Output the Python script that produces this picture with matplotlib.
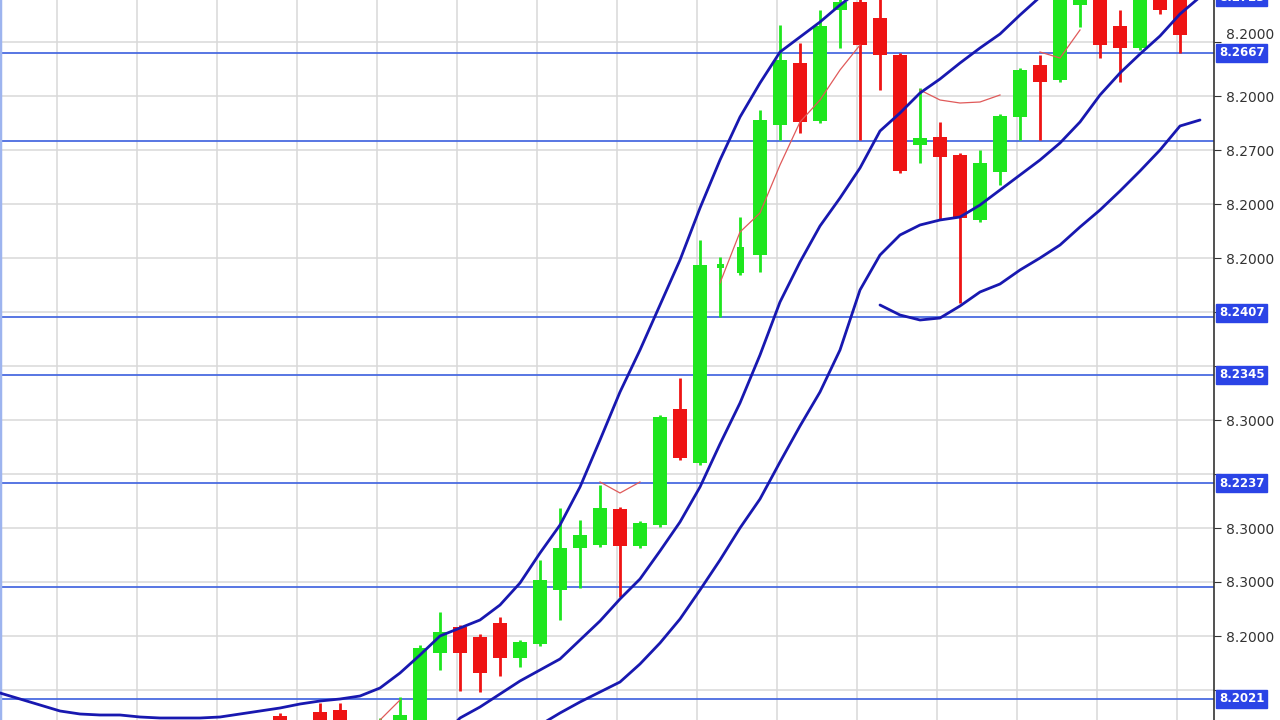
import numpy as np
import matplotlib
matplotlib.use("Agg")
import matplotlib.pyplot as plt

# candle data (index, open, high, low, close)
opens = [8.2004, 8.1960, 8.2008, 8.2010, 8.1980, 8.1985, 8.1980, 8.1985, 8.2067, 8.2093,
         8.2083, 8.2097, 8.2062, 8.2076, 8.2130, 8.2172, 8.2175, 8.2211, 8.2174, 8.2195,
         8.2311, 8.2257, 8.2452, 8.2447, 8.2465, 8.2595, 8.2657, 8.2599, 8.2710, 8.2718,
         8.2702, 8.2665, 8.2575, 8.2583, 8.2565, 8.2500, 8.2548, 8.2603, 8.2655, 8.2640,
         8.2715, 8.2725, 8.2694, 8.2672, 8.2725, 8.2725]
highs = [8.2007, 8.1982, 8.2017, 8.2017, 8.1998, 8.2002, 8.2023, 8.2075, 8.2108, 8.2095,
         8.2086, 8.2103, 8.2080, 8.2160, 8.2212, 8.2200, 8.2235, 8.2213, 8.2199, 8.2305,
         8.2342, 8.2480, 8.2463, 8.2503, 8.2610, 8.2695, 8.2677, 8.2710, 8.2725, 8.2725,
         8.2725, 8.2667, 8.2632, 8.2598, 8.2567, 8.2570, 8.2606, 8.2652, 8.2665, 8.2730,
         8.2725, 8.2730, 8.2710, 8.2730, 8.2730, 8.2730]
lows = [8.1980, 8.1955, 8.1975, 8.1975, 8.1975, 8.1980, 8.1975, 8.1980, 8.2050, 8.2029,
        8.2028, 8.2044, 8.2053, 8.2074, 8.2100, 8.2132, 8.2173, 8.2123, 8.2172, 8.2193,
        8.2260, 8.2255, 8.2403, 8.2445, 8.2448, 8.2580, 8.2587, 8.2597, 8.2672, 8.2580,
        8.2630, 8.2547, 8.2557, 8.2500, 8.2417, 8.2498, 8.2535, 8.2580, 8.2580, 8.2638,
        8.2693, 8.2662, 8.2638, 8.2670, 8.2706, 8.2667]
closes = [8.1985, 8.1978, 8.1985, 8.1990, 8.1995, 8.1998, 8.2005, 8.2072, 8.2088, 8.2067,
          8.2047, 8.2062, 8.2078, 8.2140, 8.2172, 8.2185, 8.2212, 8.2174, 8.2197, 8.2303,
          8.2262, 8.2455, 8.2456, 8.2473, 8.2600, 8.2660, 8.2598, 8.2694, 8.2718, 8.2675,
          8.2665, 8.2549, 8.2582, 8.2563, 8.2502, 8.2557, 8.2604, 8.2650, 8.2638, 8.2725,
          8.2720, 8.2675, 8.2672, 8.2725, 8.2710, 8.2685]
body_w = [0.7] * 22 + [0.35, 0.35] + [0.7] * 22

# band lines, one value per index from -14 to 46 (nan = not drawn)
band_x = np.arange(-14, 47)
nan = np.nan
upper_band = [8.2027, 8.2021, 8.2015, 8.2009, 8.2006, 8.2005, 8.2005, 8.2003, 8.2002, 8.2002,
              8.2002, 8.2003, 8.2006, 8.2009, 8.2012, 8.2016, 8.2019, 8.2021, 8.2024, 8.2032,
              8.2047, 8.2065, 8.2084, 8.2092, 8.2100, 8.2115, 8.2137, 8.2167, 8.2195, 8.2233,
              8.2280, 8.2328, 8.2370, 8.2415, 8.2460, 8.2512, 8.2560, 8.2603, 8.2637, 8.2668,
              8.2683, 8.2698, 8.2715, 8.2730, 8.2740, nan, nan, nan, nan, nan,
              nan, nan, nan, nan, nan, nan, nan, nan, nan, nan, nan]
mid_band = [nan] * 22 + [8.1980, 8.2002, 8.2013, 8.2026, 8.2039, 8.2050, 8.2061, 8.2080,
                         8.2099, 8.2121, 8.2141, 8.2169, 8.2198, 8.2233, 8.2276, 8.2317,
                         8.2365, 8.2418, 8.2458, 8.2494, 8.2522, 8.2552, 8.2589, 8.2607,
                         8.2627, 8.2641, 8.2657, 8.2672, 8.2686, 8.2705, 8.2723, 8.2740] + [nan] * 7
lower_band = [nan] * 27 + [8.1995, 8.2007, 8.2018, 8.2028, 8.2038, 8.2056, 8.2077, 8.2101,
                           8.2130, 8.2160, 8.2192, 8.2221, 8.2258, 8.2294, 8.2328, 8.2370,
                           8.2430, 8.2465, 8.2485, 8.2495, 8.2500, 8.2503, 8.2515, 8.2530,
                           8.2545, 8.2560, 8.2577, 8.2598, 8.2625, 8.2647, 8.2666, 8.2684,
                           8.2706, 8.2723]
low2_band = [nan] * 44 + [8.2415, 8.2405, 8.2400, 8.2402, 8.2414, 8.2428, 8.2436, 8.2450,
                          8.2462, 8.2475, 8.2493, 8.2510, 8.2529, 8.2549, 8.2570, 8.2594, 8.2600]

# thin moving average fragments, one value per candle
ma_line = [nan, nan, nan, nan, nan, 8.2000, 8.2020, nan, nan, nan,
           nan, nan, nan, nan, nan, nan, 8.2238, 8.2227, 8.2238, nan,
           nan, nan, 8.2437, 8.2488, 8.2507, 8.2555, 8.2598, 8.2620, 8.2650, 8.2675,
           nan, nan, 8.2630, 8.2620, 8.2617, 8.2618, 8.2625, nan, 8.2668, 8.2662,
           8.2690, nan, nan, nan, nan, nan]

# horizontal levels and price boxes
levels = [8.2667, 8.2579, 8.2403, 8.2345, 8.2237, 8.2133, 8.2021]
box_prices = [8.2723, 8.2667, 8.2407, 8.2345, 8.2237, 8.2021]
box_texts = ["8.2723", "8.2667", "8.2407", "8.2345", "8.2237", "8.2021"]

tick_vals = [8.2678, 8.2624, 8.2570, 8.2516, 8.2462, 8.2408, 8.2354,
             8.2300, 8.2246, 8.2192, 8.2138, 8.2084, 8.2030]
tick_labels = ["8.2000", "8.2000", "8.2700", "8.2000", "8.2000", "", "",
               "8.3000", "", "8.3000", "8.3000", "8.2000", ""]

GREEN = "#1ee61e"
RED = "#ee1414"
BAND = "#1818b0"
LEVEL = "#4a6be0"

fig = plt.figure(figsize=(12.8, 7.2), dpi=100)
ax = fig.add_axes([0, 0, 1214 / 1280, 1])

x = np.arange(len(opens))
o = np.array(opens)
c = np.array(closes)
up = c >= o
cols = [GREEN if u else RED for u in up]

ax.vlines(x, lows, highs, colors=cols, linewidth=2, zorder=4)
ax.bar(x, np.maximum(np.abs(c - o), 0.0003), bottom=np.minimum(o, c), width=body_w,
       color=cols, zorder=5)

ax.plot(x, ma_line, color="#e05a5a", linewidth=0.9, zorder=6)

for band in (upper_band, mid_band, lower_band, low2_band):
    ax.plot(band_x, band, color=BAND, linewidth=2, zorder=7,
            solid_capstyle="round", solid_joinstyle="round")

for lv in levels:
    ax.axhline(lv, color=LEVEL, linewidth=1.3, zorder=2)

ax.set_xlim(-14, 46.7)
ax.set_ylim(8.2000, 8.2720)

ax.set_xticks(np.arange(-11.15, 46, 4))
ax.set_yticks(tick_vals)
ax.set_yticklabels(tick_labels)
ax.yaxis.tick_right()
ax.tick_params(axis="y", labelsize=10, labelcolor="#333333", color="#333333", length=5)
ax.tick_params(axis="x", length=0, labelbottom=False)
ax.grid(True, color="#d9d9d9", linewidth=1.1, zorder=0)
ax.set_axisbelow(True)
ax.get_yticklabels()[0].set_va("bottom")

for s in ("top", "bottom"):
    ax.spines[s].set_visible(False)
ax.spines["left"].set_color("#9db4ef")
ax.spines["left"].set_linewidth(2.5)
ax.spines["right"].set_color("#333333")
ax.spines["right"].set_linewidth(1.2)

for p, t in zip(box_prices, box_texts):
    ax.text(1.004, p, t, transform=ax.get_yaxis_transform(), ha="left", va="center",
            color="white", fontsize=8.5, fontweight="bold", clip_on=False, zorder=10,
            bbox=dict(boxstyle="square,pad=0.2", facecolor="#2b44e6", edgecolor="#2b44e6"))

fig.savefig("out.png", dpi=100)
